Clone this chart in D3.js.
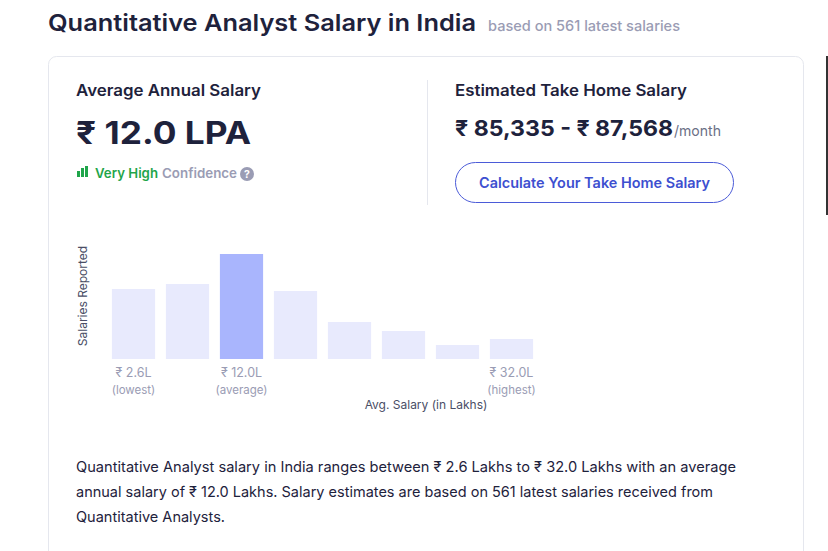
<!DOCTYPE html>
<html><head><meta charset="utf-8">
<script src="https://cdn.jsdelivr.net/npm/d3@7"></script>
<style>
body{margin:0;background:#fff;}
</style></head><body>
<svg id="c" width="828" height="551"></svg>
<script>
var bins = ["b1","b2","b3","b4","b5","b6","b7","b8"];
var counts = [70, 75, 105, 68, 37, 28, 14, 20];
var avgIndex = 2;
var tickLabels = [{i:0, v:"₹ 2.6L", s:"(lowest)"}, {i:2, v:"₹ 12.0L", s:"(average)"}, {i:7, v:"₹ 32.0L", s:"(highest)"}];

var svg = d3.select("#c");
var font = "Inter, 'Open Sans', sans-serif";

svg.append("rect").attr("x",48.5).attr("y",56.5).attr("width",755).attr("height",520)
  .attr("rx",8).attr("fill","#fff").attr("stroke","#e5e7ee");
svg.append("line").attr("x1",827).attr("x2",827).attr("y1",56).attr("y2",215).attr("stroke","#333").attr("stroke-width",2);
svg.append("line").attr("x1",427.5).attr("x2",427.5).attr("y1",80).attr("y2",205).attr("stroke","#e5e7ee");

function txt(x,y,t,size,fill,weight,anchor){
  return svg.append("text").attr("x",x).attr("y",y).text(t).attr("font-family",font)
    .attr("font-size",size).attr("fill",fill).attr("font-weight",weight||400).attr("text-anchor",anchor||"start");
}
function fit(sel,w){ var n=sel.node(); if(n.getComputedTextLength()!==w) sel.attr("textLength",w).attr("lengthAdjust","spacingAndGlyphs"); return sel; }
fit(txt(48,31,"Quantitative Analyst Salary in India",23,"#1e223c",600),428);
fit(txt(488,31,"based on 561 latest salaries",14.5,"#9a9cb4",500),192);
fit(txt(76,96,"Average Annual Salary",16,"#1e223c",600),185);
fit(txt(76,144,"₹ 12.0 LPA",31,"#1e223c",700),175);
[[77,171,3,6],[81,168,3,9],[85,166,3,11]].forEach(function(b){
  svg.append("rect").attr("x",b[0]).attr("y",b[1]).attr("width",b[2]).attr("height",b[3]).attr("fill","#1fa54a");
});
fit(txt(95,178,"Very High",13.5,"#1fa54a",600),63);
fit(txt(162,178,"Confidence",13.5,"#9a9cb4",600),75);
svg.append("circle").attr("cx",247).attr("cy",174).attr("r",7).attr("fill","#9a9cb4");
txt(247,178,"?",10.5,"#fff",700,"middle");

fit(txt(455,96,"Estimated Take Home Salary",16,"#1e223c",600),232);
var th = txt(455,136,"₹ 85,335 - ₹ 87,568",22,"#1e223c",700);
fit(th,218);
fit(txt(674,136,"/month",14.5,"#6b6f86",400),47);
svg.append("rect").attr("x",455.5).attr("y",162.5).attr("width",278).attr("height",40).attr("rx",20)
  .attr("fill","#fff").attr("stroke","#4b5bd8");
fit(txt(479,188,"Calculate Your Take Home Salary",14.5,"#3d4fd0",600),231);

var x = d3.scaleBand().domain(bins).range([106.5, 538.5]).paddingInner(0.2).paddingOuter(0.1);
var y = d3.scaleLinear().domain([0,105]).range([359,254]);
svg.append("g").selectAll("rect").data(counts).join("rect")
  .attr("x",function(d,i){return x(bins[i]);}).attr("width",x.bandwidth())
  .attr("y",function(d){return y(d);}).attr("height",function(d){return y(0)-y(d);})
  .attr("fill",function(d,i){return i==avgIndex?"#a9b5fd":"#e8eafd";});
tickLabels.forEach(function(t){
  var cx = x(bins[t.i]) + x.bandwidth()/2;
  txt(cx,377,t.v,12.5,"#9a9cb4",400,"middle");
  txt(cx,394,t.s,11.5,"#9a9cb4",400,"middle");
});
txt(426,409,"Avg. Salary (in Lakhs)",12,"#4a4e66",400,"middle");
txt(0,0,"Salaries Reported",12,"#4a4e66",400,"middle").attr("transform","translate(87,296) rotate(-90)");

var para = [["Quantitative Analyst salary in India ranges between ₹ 2.6 Lakhs to ₹ 32.0 Lakhs with an average",660],
  ["annual salary of ₹ 12.0 Lakhs. Salary estimates are based on 561 latest salaries received from",637],
  ["Quantitative Analysts.",149]];
para.forEach(function(p,i){ fit(txt(76,472+i*25,p[0],14.5,"#1e223c",400),p[1]); });
</script></body></html>
